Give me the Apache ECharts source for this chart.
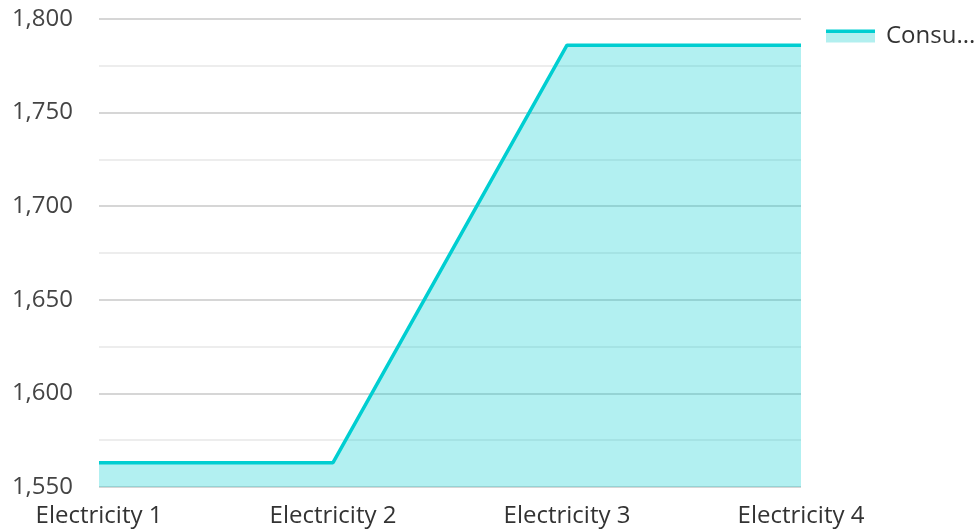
<!DOCTYPE html>
<html>
<head>
<meta charset="utf-8">
<script src="https://cdn.jsdelivr.net/npm/echarts@6/dist/echarts.min.js"></script>
<style>
html,body{margin:0;padding:0;background:#fff;}
#chart{width:980px;height:531px;}
</style>
</head>
<body>
<div id="chart"></div>
<script>
var categories = ['Electricity 1', 'Electricity 2', 'Electricity 3', 'Electricity 4'];
var seriesName = 'Consumption';
var consumption = [1563, 1563, 1786, 1786];
var yMin = 1550, yMax = 1800, yInterval = 50;

var lineColor = '#00CED1';
var fillColor = '#b2efef';
var chart = echarts.init(document.getElementById('chart'));
chart.setOption({
  animation: false,
  textStyle: { fontFamily: 'Open Sans' },
  grid: { left: 99, right: 179, top: 19, bottom: 44 },
  legend: {
    left: 821, top: 19,
    itemWidth: 49, itemHeight: 13,
    icon: 'rect',
    data: [{
      name: seriesName,
      itemStyle: {
        color: {
          type: 'linear', x: 0, y: 0, x2: 0, y2: 1,
          colorStops: [
            { offset: 0, color: lineColor },
            { offset: 0.25, color: lineColor },
            { offset: 0.25, color: fillColor },
            { offset: 1, color: fillColor }
          ]
        }
      }
    }],
    textStyle: { fontSize: 24, color: '#333', fontFamily: 'Open Sans', width: 100, overflow: 'truncate', ellipsis: '...', padding: [0, 0, 0, 6] }
  },
  xAxis: {
    type: 'category',
    data: categories,
    boundaryGap: false,
    axisLine: { show: false },
    axisTick: { show: false },
    axisLabel: { fontSize: 24, color: '#333', margin: 17, fontFamily: 'Open Sans' },
    splitLine: { show: false }
  },
  yAxis: {
    type: 'value',
    min: yMin, max: yMax, interval: yInterval,
    axisLine: { show: false },
    axisTick: { show: false },
    axisLabel: { fontSize: 24, color: '#444', margin: 26, fontFamily: 'Open Sans' },
    splitLine: { show: true, lineStyle: { color: '#c8c8c8', width: 1.5 } },
    minorTick: { show: false, splitNumber: 2 },
    minorSplitLine: { show: true, lineStyle: { color: '#e8e8e8', width: 1.5 } }
  },
  series: [{
    name: seriesName,
    type: 'line',
    data: consumption,
    symbol: 'none',
    lineStyle: { color: lineColor, width: 3.5 },
    itemStyle: { color: lineColor },
    areaStyle: { color: lineColor, opacity: 0.3 }
  }]
});
</script>
</body>
</html>
